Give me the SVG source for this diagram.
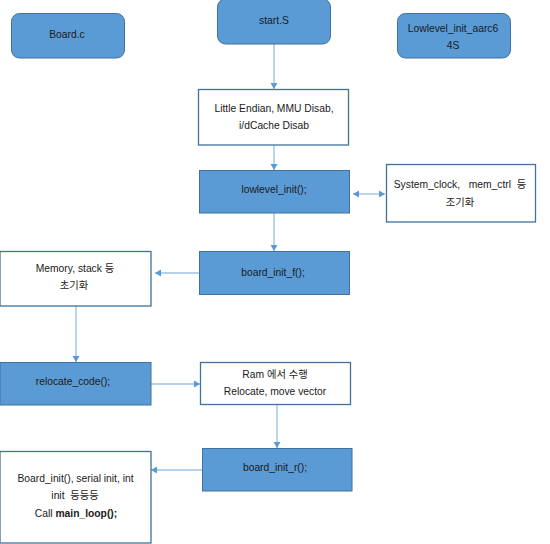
<svg xmlns="http://www.w3.org/2000/svg" width="550" height="544" viewBox="0 0 550 544">
<style>
  .blue { fill: #5b9bd5; stroke: #41719c; stroke-width: 1; }
  .white { fill: #ffffff; stroke: #41719c; stroke-width: 1.3; }
  .lbl { font-family: "Liberation Sans", "Noto Sans CJK KR", sans-serif; font-size: 10.3px; fill: #1a1a1a; text-anchor: middle; white-space: pre; }
  .conn { stroke: #9dc3e6; stroke-width: 1.4; fill: none; }
  .b { font-weight: bold; }
</style>
<defs>
  <marker id="ah" markerUnits="userSpaceOnUse" markerWidth="8" markerHeight="8" refX="6" refY="4" orient="auto">
    <path d="M0,0.5 L6,4 L0,7.5 Z" fill="#5b9bd5"/>
  </marker>
  <marker id="ahs" markerUnits="userSpaceOnUse" markerWidth="8" markerHeight="8" refX="0" refY="4" orient="auto">
    <path d="M6,0.5 L0,4 L6,7.5 Z" fill="#5b9bd5"/>
  </marker>
</defs>
<rect width="550" height="544" fill="#ffffff"/>

<g id="connectors">
  <line class="conn" x1="274" y1="44" x2="274" y2="89" marker-end="url(#ah)"/>
  <line class="conn" x1="274" y1="145" x2="274" y2="170" marker-end="url(#ah)"/>
  <line class="conn" x1="353" y1="194" x2="385" y2="194" marker-start="url(#ahs)" marker-end="url(#ah)"/>
  <line class="conn" x1="274" y1="213" x2="274" y2="251" marker-end="url(#ah)"/>
  <line class="conn" x1="199" y1="273" x2="155" y2="273" marker-end="url(#ah)"/>
  <line class="conn" x1="76" y1="306" x2="76" y2="362" marker-end="url(#ah)"/>
  <line class="conn" x1="151" y1="384" x2="200" y2="384" marker-end="url(#ah)"/>
  <line class="conn" x1="277" y1="404" x2="277" y2="448" marker-end="url(#ah)"/>
  <line class="conn" x1="202" y1="470" x2="151" y2="470" marker-end="url(#ah)"/>
</g>

<g id="board_c">
  <rect class="blue" x="11.5" y="13.5" width="113" height="44.5" rx="8"/>
  <text class="lbl" x="67" y="38">Board.c</text>
</g>
<g id="start_s">
  <rect class="blue" x="217.5" y="-1" width="113" height="45" rx="8"/>
  <text class="lbl" x="274" y="24">start.S</text>
</g>
<g id="lowlevel_init_aarch64">
  <rect class="blue" x="397.5" y="13.5" width="113" height="44.5" rx="8"/>
  <text class="lbl" x="453" y="32">Lowlevel_init_aarc6</text>
  <text class="lbl" x="453" y="49">4S</text>
</g>
<g id="little_endian">
  <rect class="white" x="198.5" y="89.5" width="150" height="55.5"/>
  <text class="lbl" x="274" y="112">Little Endian, MMU Disab,</text>
  <text class="lbl" x="274" y="129">i/dCache Disab</text>
</g>
<g id="lowlevel_init">
  <rect class="blue" x="199.5" y="170.5" width="150" height="42.5"/>
  <text class="lbl" x="274" y="193">lowlevel_init();</text>
</g>
<g id="system_clock">
  <rect class="white" x="386.5" y="164.5" width="149" height="57.5"/>
  <text class="lbl" x="460" y="188">System_clock,   mem_ctrl  등</text>
  <text class="lbl" x="460" y="206">조기화</text>
</g>
<g id="board_init_f">
  <rect class="blue" x="199.5" y="251.5" width="150" height="43"/>
  <text class="lbl" x="273" y="276">board_init_f();</text>
</g>
<g id="memory_stack">
  <rect class="white" x="0" y="251.5" width="151" height="54.5"/>
  <text class="lbl" x="75" y="272">Memory, stack 등</text>
  <text class="lbl" x="74" y="289">초기화</text>
</g>
<g id="relocate_code">
  <rect class="blue" x="0" y="362.5" width="151" height="42.5"/>
  <text class="lbl" x="73" y="385">relocate_code();</text>
</g>
<g id="ram_exec">
  <rect class="white" x="200.5" y="362.5" width="150" height="42"/>
  <text class="lbl" x="275" y="378">Ram 에서 수행</text>
  <text class="lbl" x="275" y="395">Relocate, move vector</text>
</g>
<g id="board_init_r">
  <rect class="blue" x="202.5" y="448.5" width="149.5" height="42.5"/>
  <text class="lbl" x="275" y="471">board_init_r();</text>
</g>
<g id="board_init_etc">
  <rect class="white" x="0" y="451.5" width="151" height="91.5"/>
  <text class="lbl" x="75.5" y="482">Board_init(), serial init, int</text>
  <text class="lbl" x="75" y="499">init  등등등</text>
  <text class="lbl" x="76" y="517">Call <tspan class="b">main_loop();</tspan></text>
</g>
</svg>
